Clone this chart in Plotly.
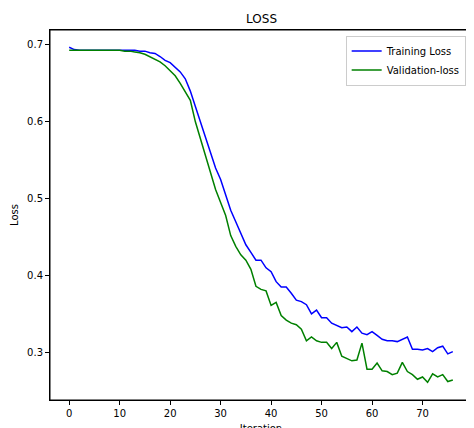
import plotly.graph_objects as go

iteration = list(range(77))
training_loss = [
    0.697, 0.694, 0.693, 0.693, 0.693, 0.693, 0.693, 0.693, 0.693, 0.693,
    0.693, 0.693, 0.693, 0.693, 0.692, 0.692, 0.690, 0.689, 0.685, 0.680,
    0.677, 0.671, 0.665, 0.656, 0.640, 0.620, 0.600, 0.580, 0.560, 0.540,
    0.525, 0.505, 0.485, 0.470, 0.455, 0.440, 0.430, 0.420, 0.420, 0.410,
    0.405, 0.392, 0.385, 0.385, 0.377, 0.368, 0.366, 0.362, 0.350, 0.355,
    0.345, 0.345, 0.338, 0.335, 0.332, 0.333, 0.327, 0.333, 0.325, 0.323,
    0.327, 0.322, 0.317, 0.315, 0.315, 0.314, 0.317, 0.320, 0.304, 0.304,
    0.303, 0.305, 0.301, 0.306, 0.308, 0.298, 0.301,
]
validation_loss = [
    0.693, 0.693, 0.693, 0.693, 0.693, 0.693, 0.693, 0.693, 0.693, 0.693,
    0.693, 0.692, 0.692, 0.691, 0.690, 0.688, 0.685, 0.682, 0.678, 0.673,
    0.667, 0.660, 0.650, 0.638, 0.628, 0.600, 0.578, 0.557, 0.535, 0.512,
    0.495, 0.478, 0.452, 0.438, 0.427, 0.420, 0.408, 0.386, 0.382, 0.380,
    0.361, 0.365, 0.348, 0.342, 0.338, 0.336, 0.330, 0.315, 0.320, 0.315,
    0.313, 0.313, 0.305, 0.313, 0.295, 0.292, 0.289, 0.290, 0.312, 0.278,
    0.278, 0.286, 0.276, 0.275, 0.271, 0.273, 0.287, 0.275, 0.271, 0.265,
    0.268, 0.261, 0.272, 0.268, 0.271, 0.262, 0.264,
]

fig = go.Figure()
fig.add_trace(go.Scatter(x=iteration, y=training_loss, mode='lines', name='Training Loss',
                         line=dict(color='blue', width=1.5)))
fig.add_trace(go.Scatter(x=iteration, y=validation_loss, mode='lines', name='Validation-loss',
                         line=dict(color='green', width=1.5)))

axis_style = dict(showgrid=False, zeroline=False, showline=True, linecolor='black', linewidth=1,
                  mirror=True, ticks='outside', ticklen=4, tickcolor='black', automargin=False,
                  tickfont=dict(size=10, color='black'))
fig.update_layout(
    width=474, height=428,
    margin=dict(l=42, r=10, t=22, b=36),
    paper_bgcolor='white', plot_bgcolor='white',
    font=dict(family='DejaVu Sans', color='black'),
    title=dict(text='LOSS', x=0.535, y=0.985, yanchor='top', font=dict(size=12)),
    xaxis=dict(title=dict(text='Iteration', font=dict(size=10), standoff=6),
               range=[-3.8, 79.8], tickvals=[0, 10, 20, 30, 40, 50, 60, 70], **axis_style),
    yaxis=dict(title=dict(text='Loss', font=dict(size=10), standoff=6),
               range=[0.238, 0.7195], tickvals=[0.3, 0.4, 0.5, 0.6, 0.7],
               tickformat='.1f', **axis_style),
    legend=dict(x=0.985, y=0.985, xanchor='right', yanchor='top', bgcolor='white',
                bordercolor='#cccccc', borderwidth=1, font=dict(size=10)),
)
# axes frame like matplotlib
fig.add_shape(type='rect', xref='paper', yref='paper', x0=0, y0=0, x1=1, y1=1,
              line=dict(color='black', width=1))

fig.write_html("out.html")
